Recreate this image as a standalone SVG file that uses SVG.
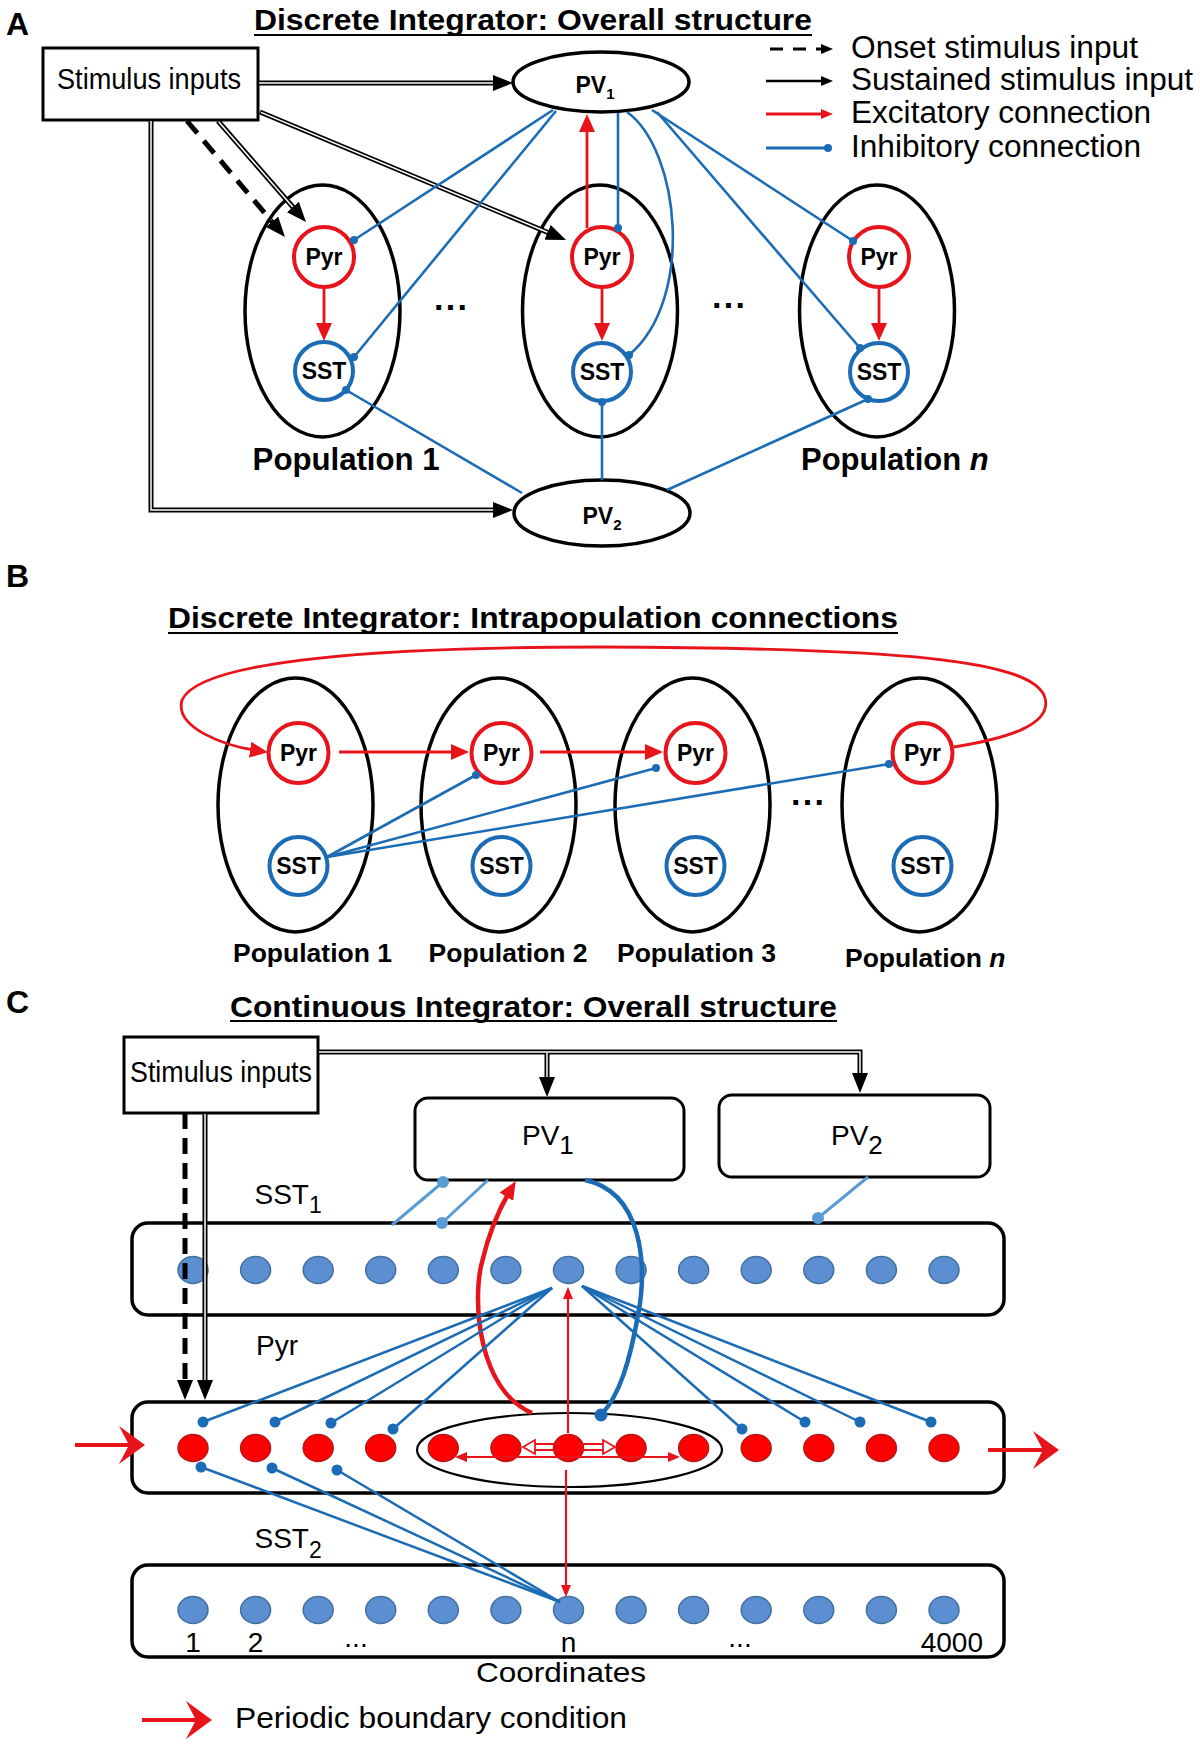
<svg xmlns="http://www.w3.org/2000/svg" width="1200" height="1754" viewBox="0 0 1200 1754">
<defs>
<style>
text{font-family:"Liberation Sans",Arial,Helvetica,sans-serif;fill:#000}
.lab{font-size:32px;font-weight:bold}
.ttl{font-size:30px;font-weight:bold}
.ul{stroke:#000;stroke-width:2}
.box{fill:#fff;stroke:#000;stroke-width:3}
.ell{fill:none;stroke:#000;stroke-width:3.5}
.pv{fill:#fff;stroke:#000;stroke-width:3.5}
.pyr{fill:#fff;stroke:#e8141c;stroke-width:4}
.sst{fill:#fff;stroke:#1b6cb5;stroke-width:4}
.nt{font-size:23px;font-weight:bold;text-anchor:middle}
.pop{font-size:31px;font-weight:bold}
.popb{font-size:26.5px;font-weight:bold}
.leg{font-size:31px}
.dots{font-size:34px;font-weight:bold}
.inh{fill:none;stroke:#1b6cb5;stroke-width:2.6;marker-end:url(#dB)}
.exc{fill:none;stroke:#e8141c;stroke-width:2.8;marker-end:url(#aR)}
.dk{fill:none;stroke:#000;stroke-width:5}
.dw{fill:none;stroke:#fff;stroke-width:1.5}
.band{fill:none;stroke:#000;stroke-width:3.5}
.rbox{fill:#fff;stroke:#000;stroke-width:3}
.ct{font-size:28px}
.sd{fill:#5b8fd1;stroke:#42709f;stroke-width:1.5}
.pd{fill:#f00;stroke:#b81818;stroke-width:1.5}
.fan{fill:none;stroke:#1b6cb5;stroke-width:2.5;marker-end:url(#dC)}
.lb{fill:none;stroke:#5b9bd5;stroke-width:3;marker-end:url(#dL)}
.thr{fill:none;stroke:#e8141c;stroke-width:2.2;marker-end:url(#aRs)}
.per{fill:none;stroke:#e8141c;stroke-width:4;marker-end:url(#aP)}
</style>
<marker id="aK" markerUnits="userSpaceOnUse" viewBox="0 0 20 16" markerWidth="20" markerHeight="16" refX="10" refY="8" orient="auto"><path d="M0,0L20,8L0,16z" fill="#000"/></marker>
<marker id="aKs" markerUnits="userSpaceOnUse" viewBox="0 0 12 10" markerWidth="12" markerHeight="10" refX="6" refY="5" orient="auto"><path d="M0,0L12,5L0,10z" fill="#000"/></marker>
<marker id="aR" markerUnits="userSpaceOnUse" viewBox="0 0 18 16" markerWidth="18" markerHeight="16" refX="9" refY="8" orient="auto"><path d="M0,0L18,8L0,16z" fill="#e8141c"/></marker>
<marker id="aRs" markerUnits="userSpaceOnUse" viewBox="0 0 12 10" markerWidth="12" markerHeight="10" refX="6" refY="5" orient="auto"><path d="M0,0L12,5L0,10z" fill="#e8141c"/></marker>
<marker id="aP" markerUnits="userSpaceOnUse" viewBox="0 0 26 38" markerWidth="26" markerHeight="38" refX="12" refY="19" orient="auto"><path d="M26,19L0,0L10,19L0,38z" fill="#e8141c"/></marker>
<marker id="dB" markerUnits="userSpaceOnUse" viewBox="0 0 10 10" markerWidth="10" markerHeight="10" refX="5" refY="5"><circle cx="5" cy="5" r="4" fill="#1b6cb5"/></marker>
<marker id="dC" markerUnits="userSpaceOnUse" viewBox="0 0 12 12" markerWidth="12" markerHeight="12" refX="6" refY="6"><circle cx="6" cy="6" r="5.5" fill="#1b6cb5"/></marker>
<marker id="dC2" markerUnits="userSpaceOnUse" viewBox="0 0 14 14" markerWidth="14" markerHeight="14" refX="7" refY="7"><circle cx="7" cy="7" r="6.5" fill="#1b6cb5"/></marker>
<marker id="dL" markerUnits="userSpaceOnUse" viewBox="0 0 14 14" markerWidth="14" markerHeight="14" refX="7" refY="7"><circle cx="7" cy="7" r="6" fill="#5b9bd5"/></marker>
</defs>
<rect width="1200" height="1754" fill="#fff"/>

<!-- ===== Panel A ===== -->
<g id="A-labels">
<text x="6" y="35" class="lab">A</text>
<text x="254" y="30" class="ttl" textLength="558" lengthAdjust="spacingAndGlyphs">Discrete Integrator: Overall structure</text>
<line x1="254" y1="35" x2="812" y2="35" class="ul"/>
</g>
<g id="A-legend">
<path d="M770,49H827" fill="none" stroke="#000" stroke-width="3" stroke-dasharray="13,10" marker-end="url(#aKs)"/>
<path d="M766,81H827" fill="none" stroke="#000" stroke-width="2.5" marker-end="url(#aKs)"/>
<path d="M766,114H827" fill="none" stroke="#e8141c" stroke-width="3" marker-end="url(#aRs)"/>
<path d="M766,148H828" fill="none" stroke="#1b6cb5" stroke-width="3" marker-end="url(#dB)"/>
<text x="851" y="58" class="leg" textLength="287" lengthAdjust="spacingAndGlyphs">Onset stimulus input</text>
<text x="851" y="90" class="leg" textLength="342" lengthAdjust="spacingAndGlyphs">Sustained stimulus input</text>
<text x="851" y="123" class="leg" textLength="300" lengthAdjust="spacingAndGlyphs">Excitatory connection</text>
<text x="851" y="157" class="leg" textLength="290" lengthAdjust="spacingAndGlyphs">Inhibitory connection</text>
</g>
<g id="A-stimulus">
<rect x="43" y="48" width="215" height="72" class="box"/>
<text x="57" y="89" font-size="29" textLength="184" lengthAdjust="spacingAndGlyphs">Stimulus inputs</text>
</g>
<g id="A-PV1">
<ellipse cx="601" cy="82" rx="88" ry="30" class="pv"/>
<text x="595" y="93" class="nt" font-size="24">PV<tspan font-size="15" dy="6">1</tspan></text>
</g>
<g id="A-PV2">
<ellipse cx="602" cy="513" rx="88" ry="33" class="pv"/>
<text x="602" y="524" class="nt" font-size="24">PV<tspan font-size="15" dy="6">2</tspan></text>
</g>
<g id="A-pop1">
<ellipse cx="322.5" cy="311" rx="77.5" ry="126" class="ell"/>
<text x="252.6" y="470" class="pop" textLength="187" lengthAdjust="spacingAndGlyphs">Population 1</text>
</g>
<g id="A-pyr1"><circle cx="324" cy="257" r="30" class="pyr"/><text x="324" y="265" class="nt">Pyr</text></g>
<g id="A-sst1"><circle cx="324" cy="371" r="29" class="sst"/><text x="324" y="379" class="nt">SST</text></g>
<g id="A-pop2"><ellipse cx="600" cy="311" rx="77.5" ry="126" class="ell"/></g>
<g id="A-pyr2"><circle cx="602" cy="257" r="30" class="pyr"/><text x="602" y="265" class="nt">Pyr</text></g>
<g id="A-sst2"><circle cx="602" cy="372" r="29" class="sst"/><text x="602" y="380" class="nt">SST</text></g>
<g id="A-popn">
<ellipse cx="877" cy="311" rx="77.5" ry="126" class="ell"/>
<text x="801" y="470" class="pop">Population <tspan font-style="italic">n</tspan></text>
</g>
<g id="A-pyrn"><circle cx="879" cy="257" r="30" class="pyr"/><text x="879" y="265" class="nt">Pyr</text></g>
<g id="A-sstn"><circle cx="879" cy="372" r="29" class="sst"/><text x="879" y="380" class="nt">SST</text></g>
<g id="A-ellipsis">
<text x="434" y="310" class="dots" textLength="33">...</text>
<text x="712" y="308" class="dots" textLength="33">...</text>
</g>

<!-- ===== Panel B ===== -->
<g id="B-labels">
<text x="6" y="587" class="lab">B</text>
<text x="168" y="628" class="ttl" textLength="730" lengthAdjust="spacingAndGlyphs">Discrete Integrator: Intrapopulation connections</text>
<line x1="168" y1="633" x2="898" y2="633" class="ul"/>
<text x="791" y="805" class="dots" textLength="33">...</text>
</g>
<g id="B-pop1"><ellipse cx="295.5" cy="805" rx="77.5" ry="127" class="ell"/><text x="233" y="962" class="popb">Population 1</text></g>
<g id="B-pyr1"><circle cx="298.5" cy="753" r="30" class="pyr"/><text x="298.5" y="761" class="nt">Pyr</text></g>
<g id="B-sst1"><circle cx="298.5" cy="866" r="29" class="sst"/><text x="298.5" y="874" class="nt">SST</text></g>
<g id="B-pop2"><ellipse cx="498.5" cy="805" rx="77.5" ry="127" class="ell"/><text x="428.6" y="962" class="popb">Population 2</text></g>
<g id="B-pyr2"><circle cx="501.5" cy="753" r="30" class="pyr"/><text x="501.5" y="761" class="nt">Pyr</text></g>
<g id="B-sst2"><circle cx="501.5" cy="866" r="29" class="sst"/><text x="501.5" y="874" class="nt">SST</text></g>
<g id="B-pop3"><ellipse cx="692.5" cy="805" rx="77.5" ry="127" class="ell"/><text x="617" y="962" class="popb">Population 3</text></g>
<g id="B-pyr3"><circle cx="695.5" cy="753" r="30" class="pyr"/><text x="695.5" y="761" class="nt">Pyr</text></g>
<g id="B-sst3"><circle cx="695.5" cy="866" r="29" class="sst"/><text x="695.5" y="874" class="nt">SST</text></g>
<g id="B-popn"><ellipse cx="919.5" cy="805" rx="77.5" ry="127" class="ell"/><text x="845" y="967" class="popb">Population <tspan font-style="italic">n</tspan></text></g>
<g id="B-pyrn"><circle cx="922.5" cy="753" r="30" class="pyr"/><text x="922.5" y="761" class="nt">Pyr</text></g>
<g id="B-sstn"><circle cx="922.5" cy="866" r="29" class="sst"/><text x="922.5" y="874" class="nt">SST</text></g>

<!-- ===== Panel C ===== -->
<g id="C-labels">
<text x="6" y="1013" class="lab">C</text>
<text x="230" y="1017" class="ttl" textLength="607" lengthAdjust="spacingAndGlyphs">Continuous Integrator: Overall structure</text>
<line x1="230" y1="1021" x2="837" y2="1021" class="ul"/>
<text x="254.5" y="1204" class="ct">SST<tspan font-size="23" dy="9">1</tspan></text>
<text x="256" y="1355" class="ct">Pyr</text>
<text x="254.5" y="1548" class="ct">SST<tspan font-size="23" dy="10">2</tspan></text>
<text x="561" y="1682" class="ct" text-anchor="middle" textLength="170" lengthAdjust="spacingAndGlyphs">Coordinates</text>
<text x="235" y="1728" font-size="30" textLength="392" lengthAdjust="spacingAndGlyphs">Periodic boundary condition</text>
</g>
<g id="C-stimulus">
<rect x="124" y="1037" width="194" height="76" class="box"/>
<text x="130" y="1082" font-size="29" textLength="182" lengthAdjust="spacingAndGlyphs">Stimulus inputs</text>
</g>
<g id="C-PV1">
<rect x="415" y="1098" width="269" height="82" rx="13" class="rbox"/>
<text x="522" y="1145" class="ct">PV<tspan font-size="26" dy="9">1</tspan></text>
</g>
<g id="C-PV2">
<rect x="719" y="1095" width="271" height="82" rx="13" class="rbox"/>
<text x="831" y="1145" class="ct">PV<tspan font-size="26" dy="9">2</tspan></text>
</g>
<g id="C-SST1">
<rect x="132" y="1223" width="872" height="92" rx="16" class="band"/>
<g class="sd">
<ellipse cx="193" cy="1270" rx="15" ry="13.5"/><ellipse cx="255.6" cy="1270" rx="15" ry="13.5"/><ellipse cx="318.2" cy="1270" rx="15" ry="13.5"/><ellipse cx="380.7" cy="1270" rx="15" ry="13.5"/><ellipse cx="443.3" cy="1270" rx="15" ry="13.5"/><ellipse cx="505.9" cy="1270" rx="15" ry="13.5"/><ellipse cx="568.5" cy="1270" rx="15" ry="13.5"/><ellipse cx="631.1" cy="1270" rx="15" ry="13.5"/><ellipse cx="693.6" cy="1270" rx="15" ry="13.5"/><ellipse cx="756.2" cy="1270" rx="15" ry="13.5"/><ellipse cx="818.8" cy="1270" rx="15" ry="13.5"/><ellipse cx="881.4" cy="1270" rx="15" ry="13.5"/><ellipse cx="944" cy="1270" rx="15" ry="13.5"/>
</g>
</g>
<g id="C-Pyr">
<rect x="132" y="1402" width="872" height="91" rx="16" class="band"/>
<ellipse cx="569.5" cy="1450" rx="152.5" ry="37" fill="none" stroke="#000" stroke-width="2.2"/>
<g class="pd">
<ellipse cx="193" cy="1448" rx="15" ry="13.5"/><ellipse cx="255.6" cy="1448" rx="15" ry="13.5"/><ellipse cx="318.2" cy="1448" rx="15" ry="13.5"/><ellipse cx="380.7" cy="1448" rx="15" ry="13.5"/><ellipse cx="443.3" cy="1448" rx="15" ry="13.5"/><ellipse cx="505.9" cy="1448" rx="15" ry="13.5"/><ellipse cx="568.5" cy="1448" rx="15" ry="13.5"/><ellipse cx="631.1" cy="1448" rx="15" ry="13.5"/><ellipse cx="693.6" cy="1448" rx="15" ry="13.5"/><ellipse cx="756.2" cy="1448" rx="15" ry="13.5"/><ellipse cx="818.8" cy="1448" rx="15" ry="13.5"/><ellipse cx="881.4" cy="1448" rx="15" ry="13.5"/><ellipse cx="944" cy="1448" rx="15" ry="13.5"/>
</g>
</g>
<g id="C-SST2">
<rect x="132" y="1565" width="872" height="92" rx="16" class="band"/>
<g class="sd">
<ellipse cx="193" cy="1610" rx="15" ry="13.5"/><ellipse cx="255.6" cy="1610" rx="15" ry="13.5"/><ellipse cx="318.2" cy="1610" rx="15" ry="13.5"/><ellipse cx="380.7" cy="1610" rx="15" ry="13.5"/><ellipse cx="443.3" cy="1610" rx="15" ry="13.5"/><ellipse cx="505.9" cy="1610" rx="15" ry="13.5"/><ellipse cx="568.5" cy="1610" rx="15" ry="13.5"/><ellipse cx="631.1" cy="1610" rx="15" ry="13.5"/><ellipse cx="693.6" cy="1610" rx="15" ry="13.5"/><ellipse cx="756.2" cy="1610" rx="15" ry="13.5"/><ellipse cx="818.8" cy="1610" rx="15" ry="13.5"/><ellipse cx="881.4" cy="1610" rx="15" ry="13.5"/><ellipse cx="944" cy="1610" rx="15" ry="13.5"/>
</g>
<text x="193" y="1652" class="ct" text-anchor="middle">1</text>
<text x="255.6" y="1652" class="ct" text-anchor="middle">2</text>
<text x="356" y="1647" class="ct" text-anchor="middle">...</text>
<text x="568.5" y="1652" class="ct" text-anchor="middle">n</text>
<text x="740" y="1647" class="ct" text-anchor="middle">...</text>
<text x="983" y="1652" class="ct" text-anchor="end">4000</text>
</g>

<!-- ===== Connectors ===== -->
<g id="connectors">
<g id="A-connectors">
<path class="dk" d="M258,83H503" marker-end="url(#aK)"/><path class="dw" d="M259,83H493"/>
<path class="dk" d="M260,112L556.8,236.2" marker-end="url(#aK)"/><path class="dw" d="M261,112.4L547.5,232.3"/>
<path class="dk" d="M218,121L299.4,214.5" marker-end="url(#aK)"/><path class="dw" d="M218.6,121.8L292.8,207"/>
<path d="M187,121L278.5,229.4" fill="none" stroke="#000" stroke-width="5" stroke-dasharray="16,10" marker-end="url(#aK)"/>
<path class="dk" d="M151,120V510H503" marker-end="url(#aK)"/><path class="dw" d="M151,121V510H493"/>
<path class="exc" d="M324,288V332"/>
<path class="exc" d="M602,288V332"/>
<path class="exc" d="M879,288V332"/>
<path class="exc" d="M587,228V123"/>
<path class="inh" d="M553,110L354,240"/>
<path class="inh" d="M556,111L354,357"/>
<path class="inh" d="M618,113V228"/>
<path class="inh" d="M627,112C680,150 695,300 629,355"/>
<path class="inh" d="M652,110L853,241"/>
<path class="inh" d="M657,112L860,348"/>
<path class="inh" d="M522,493L346,390"/>
<path class="inh" d="M602,480V402"/>
<path class="inh" d="M667,490L868,399"/>
</g>
<g id="B-connectors">
<path class="exc" d="M954,747C1010,738 1052,724 1045,698C1035,660 900,648 600,647C380,647 200,660 182,700C174,728 225,746 259,751"/>
<path class="exc" d="M339,752H460"/>
<path class="exc" d="M540,752H654"/>
<path class="inh" d="M327,857L476,775"/>
<path class="inh" d="M327,857L656,768"/>
<path class="inh" d="M327,857L889,764"/>
</g>
<g id="C-connectors">
<path class="dk" d="M318,1052H860V1083" marker-end="url(#aK)"/>
<path class="dk" d="M547,1052V1087" marker-end="url(#aK)"/>
<path class="dw" d="M319,1052H860V1073"/>
<path class="dw" d="M547,1053V1077"/>
<path d="M185,1113V1390" fill="none" stroke="#000" stroke-width="5" stroke-dasharray="16,9" marker-end="url(#aK)"/>
<path class="dk" d="M205,1113V1390" marker-end="url(#aK)"/><path class="dw" d="M205,1114V1380"/>
<path class="lb" d="M392,1225L443,1182"/>
<path class="lb" d="M488,1180L442,1223"/>
<path class="lb" d="M868,1177L818,1218"/>
<path d="M532,1413C478,1390 472,1300 482,1262C490,1228 502,1204 511,1189" fill="none" stroke="#e8141c" stroke-width="4.5" marker-end="url(#aR)"/>
<path d="M585,1180C642,1192 648,1265 638,1315C630,1360 620,1395 601,1415" fill="none" stroke="#1b6cb5" stroke-width="4.5" marker-end="url(#dC2)"/>
<path class="thr" d="M568,1433V1293"/>
<path class="thr" d="M566,1470V1591"/>
<path class="thr" d="M568,1457H461"/>
<path class="thr" d="M568,1457H674"/>
<path d="M560,1444H535M560,1450H535M577,1444H603M577,1450H603" fill="none" stroke="#e8141c" stroke-width="1.8"/>
<path d="M523,1447L535,1440L535,1454z M615,1447L603,1440L603,1454z" fill="#fff" stroke="#e8141c" stroke-width="1.8"/>
<path class="fan" d="M552,1288L203,1422"/>
<path class="fan" d="M552,1288L275,1422"/>
<path class="fan" d="M552,1288L331,1423"/>
<path class="fan" d="M552,1288L393,1429"/>
<path class="fan" d="M582,1286L742,1429"/>
<path class="fan" d="M582,1286L805,1422"/>
<path class="fan" d="M582,1286L860,1422"/>
<path class="fan" d="M582,1286L931,1422"/>
<path class="fan" d="M560,1602L201,1467"/>
<path class="fan" d="M560,1602L272,1468"/>
<path class="fan" d="M560,1602L337,1470"/>
<path class="per" d="M75,1445H131"/>
<path class="per" d="M988,1450H1045"/>
<path class="per" d="M142,1720H198"/>
</g>
</g>
</svg>
